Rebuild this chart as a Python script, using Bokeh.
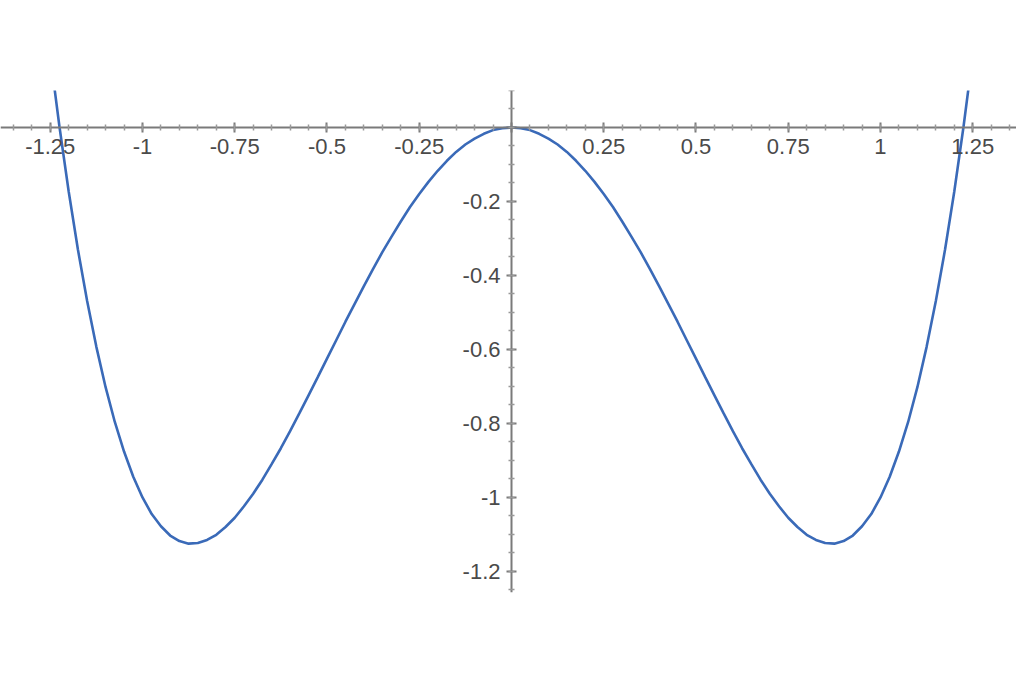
from bokeh.plotting import figure
from bokeh.models import Range1d, FixedTicker
from bokeh.embed import file_html
from bokeh.resources import INLINE

# Curve (x, y pairs)
x_vals = [-1.25, -1.225, -1.2, -1.175, -1.15, -1.125, -1.1, -1.075, -1.05, -1.025,
          -1.0, -0.975, -0.95, -0.925, -0.9, -0.875, -0.85, -0.825, -0.8, -0.775,
          -0.75, -0.725, -0.7, -0.675, -0.65, -0.625, -0.6, -0.575, -0.55, -0.525,
          -0.5, -0.475, -0.45, -0.425, -0.4, -0.375, -0.35, -0.325, -0.3, -0.275,
          -0.25, -0.225, -0.2, -0.175, -0.15, -0.125, -0.1, -0.075, -0.05, -0.025,
          0.0,
          0.025, 0.05, 0.075, 0.1, 0.125, 0.15, 0.175, 0.2, 0.225, 0.25,
          0.275, 0.3, 0.325, 0.35, 0.375, 0.4, 0.425, 0.45, 0.475, 0.5,
          0.525, 0.55, 0.575, 0.6, 0.625, 0.65, 0.675, 0.7, 0.725, 0.75,
          0.775, 0.8, 0.825, 0.85, 0.875, 0.9, 0.925, 0.95, 0.975, 1.0,
          1.025, 1.05, 1.075, 1.1, 1.125, 1.15, 1.175, 1.2, 1.225, 1.25]
y_vals = [0.195, 0.002, -0.173, -0.330, -0.469, -0.593, -0.702, -0.796, -0.876, -0.944,
          -1.000, -1.045, -1.078, -1.103, -1.118, -1.125, -1.123, -1.115, -1.101, -1.080,
          -1.055, -1.024, -0.990, -0.952, -0.910, -0.867, -0.821, -0.773, -0.724, -0.675,
          -0.625, -0.575, -0.525, -0.477, -0.429, -0.382, -0.337, -0.295, -0.254, -0.215,
          -0.180, -0.147, -0.117, -0.090, -0.066, -0.046, -0.030, -0.017, -0.007, -0.002,
          0.0,
          -0.002, -0.007, -0.017, -0.030, -0.046, -0.066, -0.090, -0.117, -0.147, -0.180,
          -0.215, -0.254, -0.295, -0.337, -0.382, -0.429, -0.477, -0.525, -0.575, -0.625,
          -0.675, -0.724, -0.773, -0.821, -0.867, -0.910, -0.952, -0.990, -1.024, -1.055,
          -1.080, -1.101, -1.115, -1.123, -1.125, -1.118, -1.103, -1.078, -1.045, -1.000,
          -0.944, -0.876, -0.796, -0.702, -0.593, -0.469, -0.330, -0.173, 0.002, 0.195]

x_ticks = [-1.25, -1.0, -0.75, -0.5, -0.25, 0.0, 0.25, 0.5, 0.75, 1.0, 1.25]
x_tick_labels = ["-1.25", "-1", "-0.75", "-0.5", "-0.25", "", "0.25", "0.5", "0.75", "1", "1.25"]
y_ticks = [-1.2, -1.0, -0.8, -0.6, -0.4, -0.2, 0.0]
y_tick_labels = ["-1.2", "-1", "-0.8", "-0.6", "-0.4", "-0.2", ""]
x_minor = [round(-1.4 + 0.05 * i, 2) for i in range(57)]
y_minor = [round(-1.25 + 0.05 * i, 2) for i in range(28)]

p = figure(width=1016, height=675, output_backend="svg", toolbar_location=None,
           x_range=Range1d(-1.3848, 1.3686), y_range=Range1d(-1.257, 0.1),
           min_border_left=0, min_border_right=0, min_border_top=90, min_border_bottom=83)
p.outline_line_color = None
p.grid.visible = False
p.background_fill_color = "white"

p.line(x_vals, y_vals, line_color="#3a6ab8", line_width=2.6)

axis_color = "#7a7a7a"
label_color = "#4a4a4a"

xa = p.xaxis[0]
xa.fixed_location = 0
xa.ticker = FixedTicker(ticks=x_ticks, minor_ticks=x_minor)
xa.major_label_overrides = {t: l for t, l in zip(x_ticks, x_tick_labels)}

ya = p.yaxis[0]
ya.fixed_location = 0
ya.ticker = FixedTicker(ticks=y_ticks, minor_ticks=y_minor)
ya.major_label_overrides = {t: l for t, l in zip(y_ticks, y_tick_labels)}

for ax in (xa, ya):
    ax.axis_line_color = axis_color
    ax.axis_line_width = 2
    ax.major_tick_line_color = axis_color
    ax.major_tick_line_width = 2
    ax.major_tick_in = 5
    ax.major_tick_out = 5
    ax.minor_tick_line_color = "#999999"
    ax.minor_tick_line_width = 1.5
    ax.minor_tick_in = 3
    ax.minor_tick_out = 3
    ax.major_label_text_color = label_color
    ax.major_label_text_font = "Liberation Sans"
    ax.major_label_text_font_size = "22px"

xa.major_label_standoff = 7
ya.major_label_standoff = 6

open("out.html", "w").write(file_html(p, INLINE))
